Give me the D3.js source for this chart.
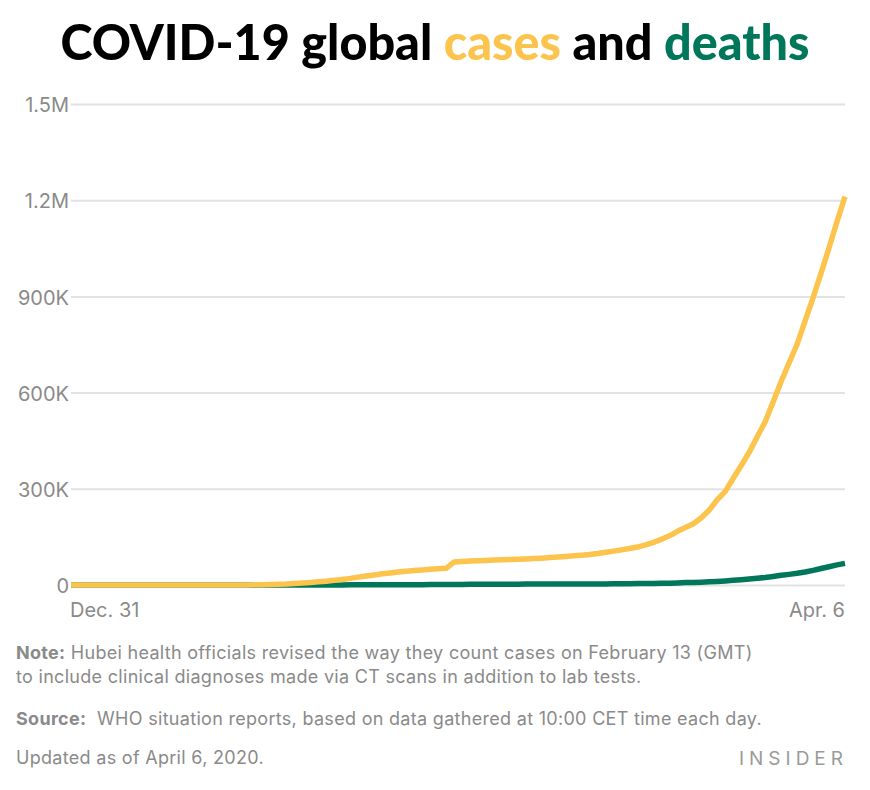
<!DOCTYPE html>
<html>
<head>
<meta charset="utf-8">
<script src="https://cdn.jsdelivr.net/npm/d3@7"></script>
<style>
  body { margin: 0; background: #fff; }
  svg text { font-family: Inter, "Open Sans", sans-serif; }
</style>
</head>
<body>
<script>
// daily series, Dec 31 2019 -> Apr 6 2020 (one value per day)
const startDate = new Date(2019, 11, 31);
const cases = [27, 27, 27, 44, 44, 59, 59, 59, 59, 59, 59, 41, 41, 42, 42, 42, 43, 45, 62, 121, 198,
  282, 314, 581, 846, 1320, 2014, 2798, 4593, 6065, 7818, 9826,
  11953, 14557, 17391, 20630, 24554, 28276, 31481, 34886, 37558, 40554, 43103, 45171, 46997, 49053, 50580, 51857,
  71429, 73332, 75204, 75748, 76769, 77794, 78811, 79331, 80239, 81109, 82294, 83652, 85403,
  87137, 88948, 90869, 93090, 95324, 98192, 102015, 105586, 109577, 113702, 118319, 125048, 132758, 142534, 153517,
  167515, 179111, 191127, 209839, 234073, 266073, 292142, 332930, 372757, 414179, 462684, 509164, 571678, 634835,
  693224, 750890, 823626, 896450, 972303, 1051635, 1133758, 1210956];
const deaths = [0, 0, 0, 0, 0, 0, 0, 0, 0, 0, 0, 1, 1, 1, 1, 1, 2, 2, 2, 3, 3,
  6, 6, 17, 25, 41, 56, 80, 106, 132, 170, 213,
  259, 305, 362, 426, 492, 565, 638, 724, 813, 910, 1018, 1115, 1118, 1383, 1526, 1669,
  1775, 1873, 2009, 2129, 2247, 2360, 2462, 2618, 2699, 2762, 2804, 2858, 2924,
  2977, 3043, 3112, 3198, 3285, 3380, 3491, 3584, 3809, 4012, 4292, 4613, 4946, 5373, 5735,
  6606, 7426, 7807, 8778, 9840, 11184, 12784, 14510, 16231, 18433, 20834, 23335, 26494, 30105,
  33106, 36405, 40598, 45526, 51485, 56985, 62773, 67594];
const yTicks = [0, 300000, 600000, 900000, 1200000, 1500000];
const yTickLabels = ["0", "300K", "600K", "900K", "1.2M", "1.5M"];
const xLabels = ["Dec. 31", "Apr. 6"];

const W = 870, H = 790;
const yellow = "#fcc44c", green = "#00775a", grey = "#8a8a8a";

const svg = d3.select("body").append("svg")
    .attr("width", W)
    .attr("height", H);

const dates = cases.map((d, i) => d3.timeDay.offset(startDate, i));

const x = d3.scaleTime()
    .domain(d3.extent(dates))
    .range([71, 845]);
const y = d3.scaleLinear()
    .domain([0, 1500000])
    .range([585, 104]);

// title
const title = svg.append("text")
    .attr("x", 435)
    .attr("y", 60)
    .attr("text-anchor", "middle")
    .style("font-family", "Lato, Roboto, sans-serif")
    .style("font-weight", 900)
    .style("font-size", "48.5px")
    .style("fill", "#000");
title.append("tspan").text("COVID-19 global ");
title.append("tspan").style("fill", yellow).text("cases");
title.append("tspan").text(" and ");
title.append("tspan").style("fill", green).text("deaths");

// gridlines + y labels
const yAxis = d3.axisLeft(y)
    .tickValues(yTicks)
    .tickSize(-(845 - 71))
    .tickPadding(2)
    .tickFormat((d, i) => yTickLabels[i]);

const gy = svg.append("g")
    .attr("transform", "translate(71,0)")
    .call(yAxis);
gy.select(".domain").remove();
gy.selectAll(".tick line")
    .attr("stroke", "#e2e2e2")
    .attr("stroke-width", 2);
gy.selectAll(".tick text")
    .attr("fill", grey)
    .style("font-family", "Inter, sans-serif")
    .style("font-size", "20px")
    .attr("dy", "0.38em");

// x labels
svg.append("text")
    .attr("x", x(dates[0]) - 1)
    .attr("y", 617)
    .attr("text-anchor", "start")
    .style("font-size", "20px")
    .style("fill", grey)
    .text(xLabels[0]);
svg.append("text")
    .attr("x", x(dates[dates.length - 1]))
    .attr("y", 617)
    .attr("text-anchor", "end")
    .style("font-size", "20px")
    .style("fill", grey)
    .text(xLabels[1]);

// lines
const line = d3.line()
    .x((d, i) => x(dates[i]))
    .y(d => y(d));

svg.append("path")
    .datum(deaths)
    .attr("d", line)
    .attr("fill", "none")
    .attr("stroke", green)
    .attr("stroke-width", 5.5)
    .attr("stroke-linejoin", "round");

svg.append("path")
    .datum(cases)
    .attr("d", line)
    .attr("fill", "none")
    .attr("stroke", yellow)
    .attr("stroke-width", 5.5)
    .attr("stroke-linejoin", "round");

// footer notes
const foot = svg.append("g")
    .style("font-size", "18px")
    .style("letter-spacing", "0.3px")
    .style("fill", grey);

const n1 = foot.append("text").attr("x", 16).attr("y", 659);
n1.append("tspan").style("font-weight", 700).text("Note:");
n1.append("tspan").text(" Hubei health officials revised the way they count cases on February 13 (GMT)");
foot.append("text").attr("x", 16).attr("y", 683)
    .text("to include clinical diagnoses made via CT scans in addition to lab tests.");

const s1 = foot.append("text").attr("x", 16).attr("y", 725);
s1.append("tspan").style("font-weight", 700).text("Source:");
s1.append("tspan").text("\u00a0 WHO situation reports, based on data gathered at 10:00 CET time each day.");

foot.append("text").attr("x", 16).attr("y", 764)
    .text("Updated as of April 6, 2020.");

svg.append("text")
    .attr("x", 848)
    .attr("y", 765)
    .attr("text-anchor", "end")
    .style("font-size", "19px")
    .style("letter-spacing", "5px")
    .style("fill", "#9a9a9a")
    .text("INSIDER");
</script>
</body>
</html>
